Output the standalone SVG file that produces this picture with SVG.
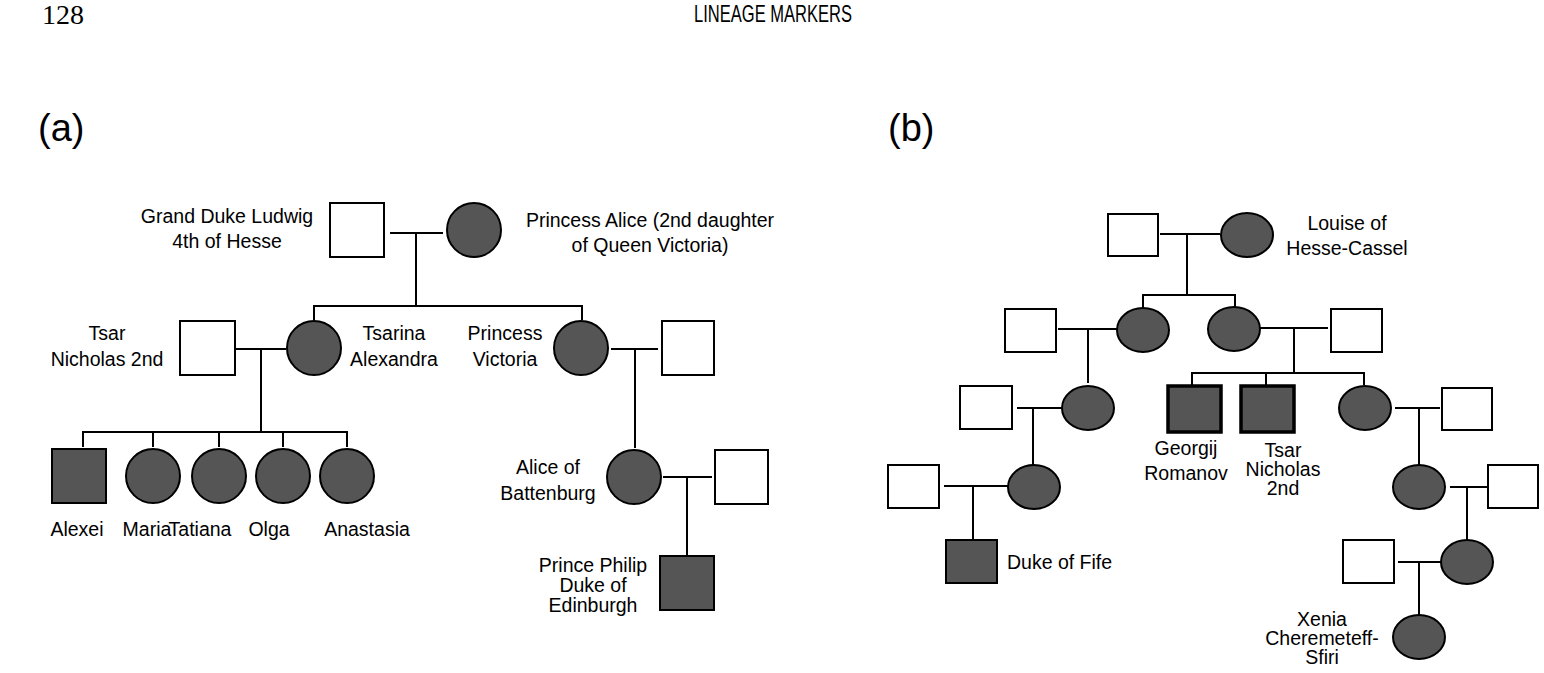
<svg xmlns="http://www.w3.org/2000/svg" width="1544" height="673" viewBox="0 0 1544 673">
<style>
.e{fill:#fff;stroke:#000;stroke-width:2}
.f{fill:#555;stroke:#000;stroke-width:2}
.k{fill:#555;stroke:#000;stroke-width:3.5}
.l{stroke:#000;stroke-width:2;fill:none}
text{font-family:"Liberation Sans",Arial,sans-serif;font-size:19.5px;fill:#000}
.m{text-anchor:middle}
.h{font-size:38px}
</style>
<rect width="1544" height="673" fill="#fff"/>
<text x="42" y="24" style="font-family:'Liberation Serif',serif;font-size:28px">128</text>
<text x="773" y="22" class="m" style="font-size:24px" textLength="158" lengthAdjust="spacingAndGlyphs">LINEAGE MARKERS</text>
<text x="38" y="141" class="h">(a)</text>
<text x="888" y="141" class="h">(b)</text>
<g id="connectors">
<path class="l" d="M390 233H443M416 233V306M314 320V306H582V320"/>
<path class="l" d="M236 349H286M261 349V432M83 447V432H347V447M153 432V447M219 432V447M283 432V447"/>
<path class="l" d="M611 349H658M635 349V448"/>
<path class="l" d="M663 477H712M687 477V556"/>
<path class="l" d="M1160 234H1220M1187 234V295M1143 308V295H1235V308"/>
<path class="l" d="M1058 329H1117M1088 329V383"/>
<path class="l" d="M1260 328H1328M1294 328V373M1192 385V373H1364V385M1266 373V385"/>
<path class="l" d="M1017 408H1062M1033 408V466"/>
<path class="l" d="M944 486H1008M973 486V540"/>
<path class="l" d="M1395 408H1440M1419 408V466"/>
<path class="l" d="M1450 487H1487M1467 487V540"/>
<path class="l" d="M1398 562H1441M1419 562V615"/>
</g>
<g id="ludwig"><rect class="e" x="330" y="203" width="54" height="54"/><text class="m" x="227" y="223">Grand Duke Ludwig</text><text class="m" x="227" y="248">4th of Hesse</text></g>
<g id="alice"><ellipse class="f" cx="474" cy="230" rx="27" ry="27"/><text class="m" x="650" y="227">Princess Alice (2nd daughter</text><text class="m" x="650" y="252">of Queen Victoria)</text></g>
<g id="tsar-a"><rect class="e" x="180" y="321" width="55" height="54"/><text class="m" x="107" y="340">Tsar</text><text class="m" x="107" y="366">Nicholas 2nd</text></g>
<g id="tsarina"><ellipse class="f" cx="314" cy="348" rx="27" ry="27"/><text class="m" x="394" y="340">Tsarina</text><text class="m" x="394" y="366">Alexandra</text></g>
<g id="victoria"><ellipse class="f" cx="581" cy="348" rx="27" ry="27"/><text class="m" x="505" y="340">Princess</text><text class="m" x="505" y="366">Victoria</text></g>
<g id="victoria-husband"><rect class="e" x="662" y="321" width="52" height="54"/></g>
<g id="alexei"><rect class="f" x="52" y="449" width="54" height="54"/><text class="m" x="77" y="536">Alexei</text></g>
<g id="maria"><ellipse class="f" cx="153" cy="476" rx="27" ry="27"/><text class="m" x="147" y="536">Maria</text></g>
<g id="tatiana"><ellipse class="f" cx="219" cy="476" rx="27" ry="27"/><text class="m" x="200" y="536">Tatiana</text></g>
<g id="olga"><ellipse class="f" cx="283" cy="476" rx="27" ry="27"/><text class="m" x="269" y="536">Olga</text></g>
<g id="anastasia"><ellipse class="f" cx="347" cy="476" rx="27" ry="27"/><text class="m" x="367" y="536">Anastasia</text></g>
<g id="alice-battenburg"><ellipse class="f" cx="634" cy="477" rx="27" ry="27"/><text class="m" x="548" y="474">Alice of</text><text class="m" x="548" y="500">Battenburg</text></g>
<g id="battenburg-husband"><rect class="e" x="715" y="450" width="53" height="54"/></g>
<g id="philip"><rect class="f" x="660" y="556" width="54" height="54"/><text class="m" x="593" y="572">Prince Philip</text><text class="m" x="593" y="592">Duke of</text><text class="m" x="593" y="612">Edinburgh</text></g>

<g id="b-top-m"><rect class="e" x="1108" y="214" width="50" height="42"/></g>
<g id="louise"><ellipse class="f" cx="1247" cy="235" rx="26" ry="22"/><text class="m" x="1347" y="230">Louise of</text><text class="m" x="1347" y="255">Hesse-Cassel</text></g>
<g id="b2-m1"><rect class="e" x="1005" y="309" width="51" height="43"/></g>
<g id="b2-f1"><ellipse class="f" cx="1143" cy="330" rx="26" ry="22"/></g>
<g id="b2-f2"><ellipse class="f" cx="1234" cy="329" rx="26" ry="22"/></g>
<g id="b2-m2"><rect class="e" x="1331" y="309" width="51" height="43"/></g>
<g id="b3-m1"><rect class="e" x="960" y="386" width="52" height="43"/></g>
<g id="b3-f1"><ellipse class="f" cx="1088" cy="408" rx="26" ry="22"/></g>
<g id="georgij"><rect class="k" x="1168" y="386" width="53" height="46"/><text class="m" x="1186" y="455">Georgij</text><text class="m" x="1186" y="480">Romanov</text></g>
<g id="tsar-b"><rect class="k" x="1241" y="386" width="53" height="46"/><text class="m" x="1283" y="457">Tsar</text><text class="m" x="1283" y="476">Nicholas</text><text class="m" x="1283" y="495">2nd</text></g>
<g id="b3-f3"><ellipse class="f" cx="1365" cy="408" rx="26" ry="22"/></g>
<g id="b3-m3"><rect class="e" x="1442" y="388" width="50" height="42"/></g>
<g id="b4-m1"><rect class="e" x="888" y="465" width="51" height="43"/></g>
<g id="b4-f1"><ellipse class="f" cx="1034" cy="487" rx="26" ry="22"/></g>
<g id="fife"><rect class="f" x="946" y="540" width="51" height="43"/><text x="1007" y="569">Duke of Fife</text></g>
<g id="b4-f3"><ellipse class="f" cx="1419" cy="487" rx="26" ry="22"/></g>
<g id="b4-m3"><rect class="e" x="1488" y="465" width="50" height="43"/></g>
<g id="b5-m"><rect class="e" x="1343" y="540" width="51" height="43"/></g>
<g id="b5-f"><ellipse class="f" cx="1467" cy="562" rx="26" ry="22"/></g>
<g id="xenia"><ellipse class="f" cx="1419" cy="637" rx="26" ry="22"/><text class="m" x="1322" y="626">Xenia</text><text class="m" x="1322" y="645">Cheremeteff-</text><text class="m" x="1322" y="664">Sfiri</text></g>
</svg>
